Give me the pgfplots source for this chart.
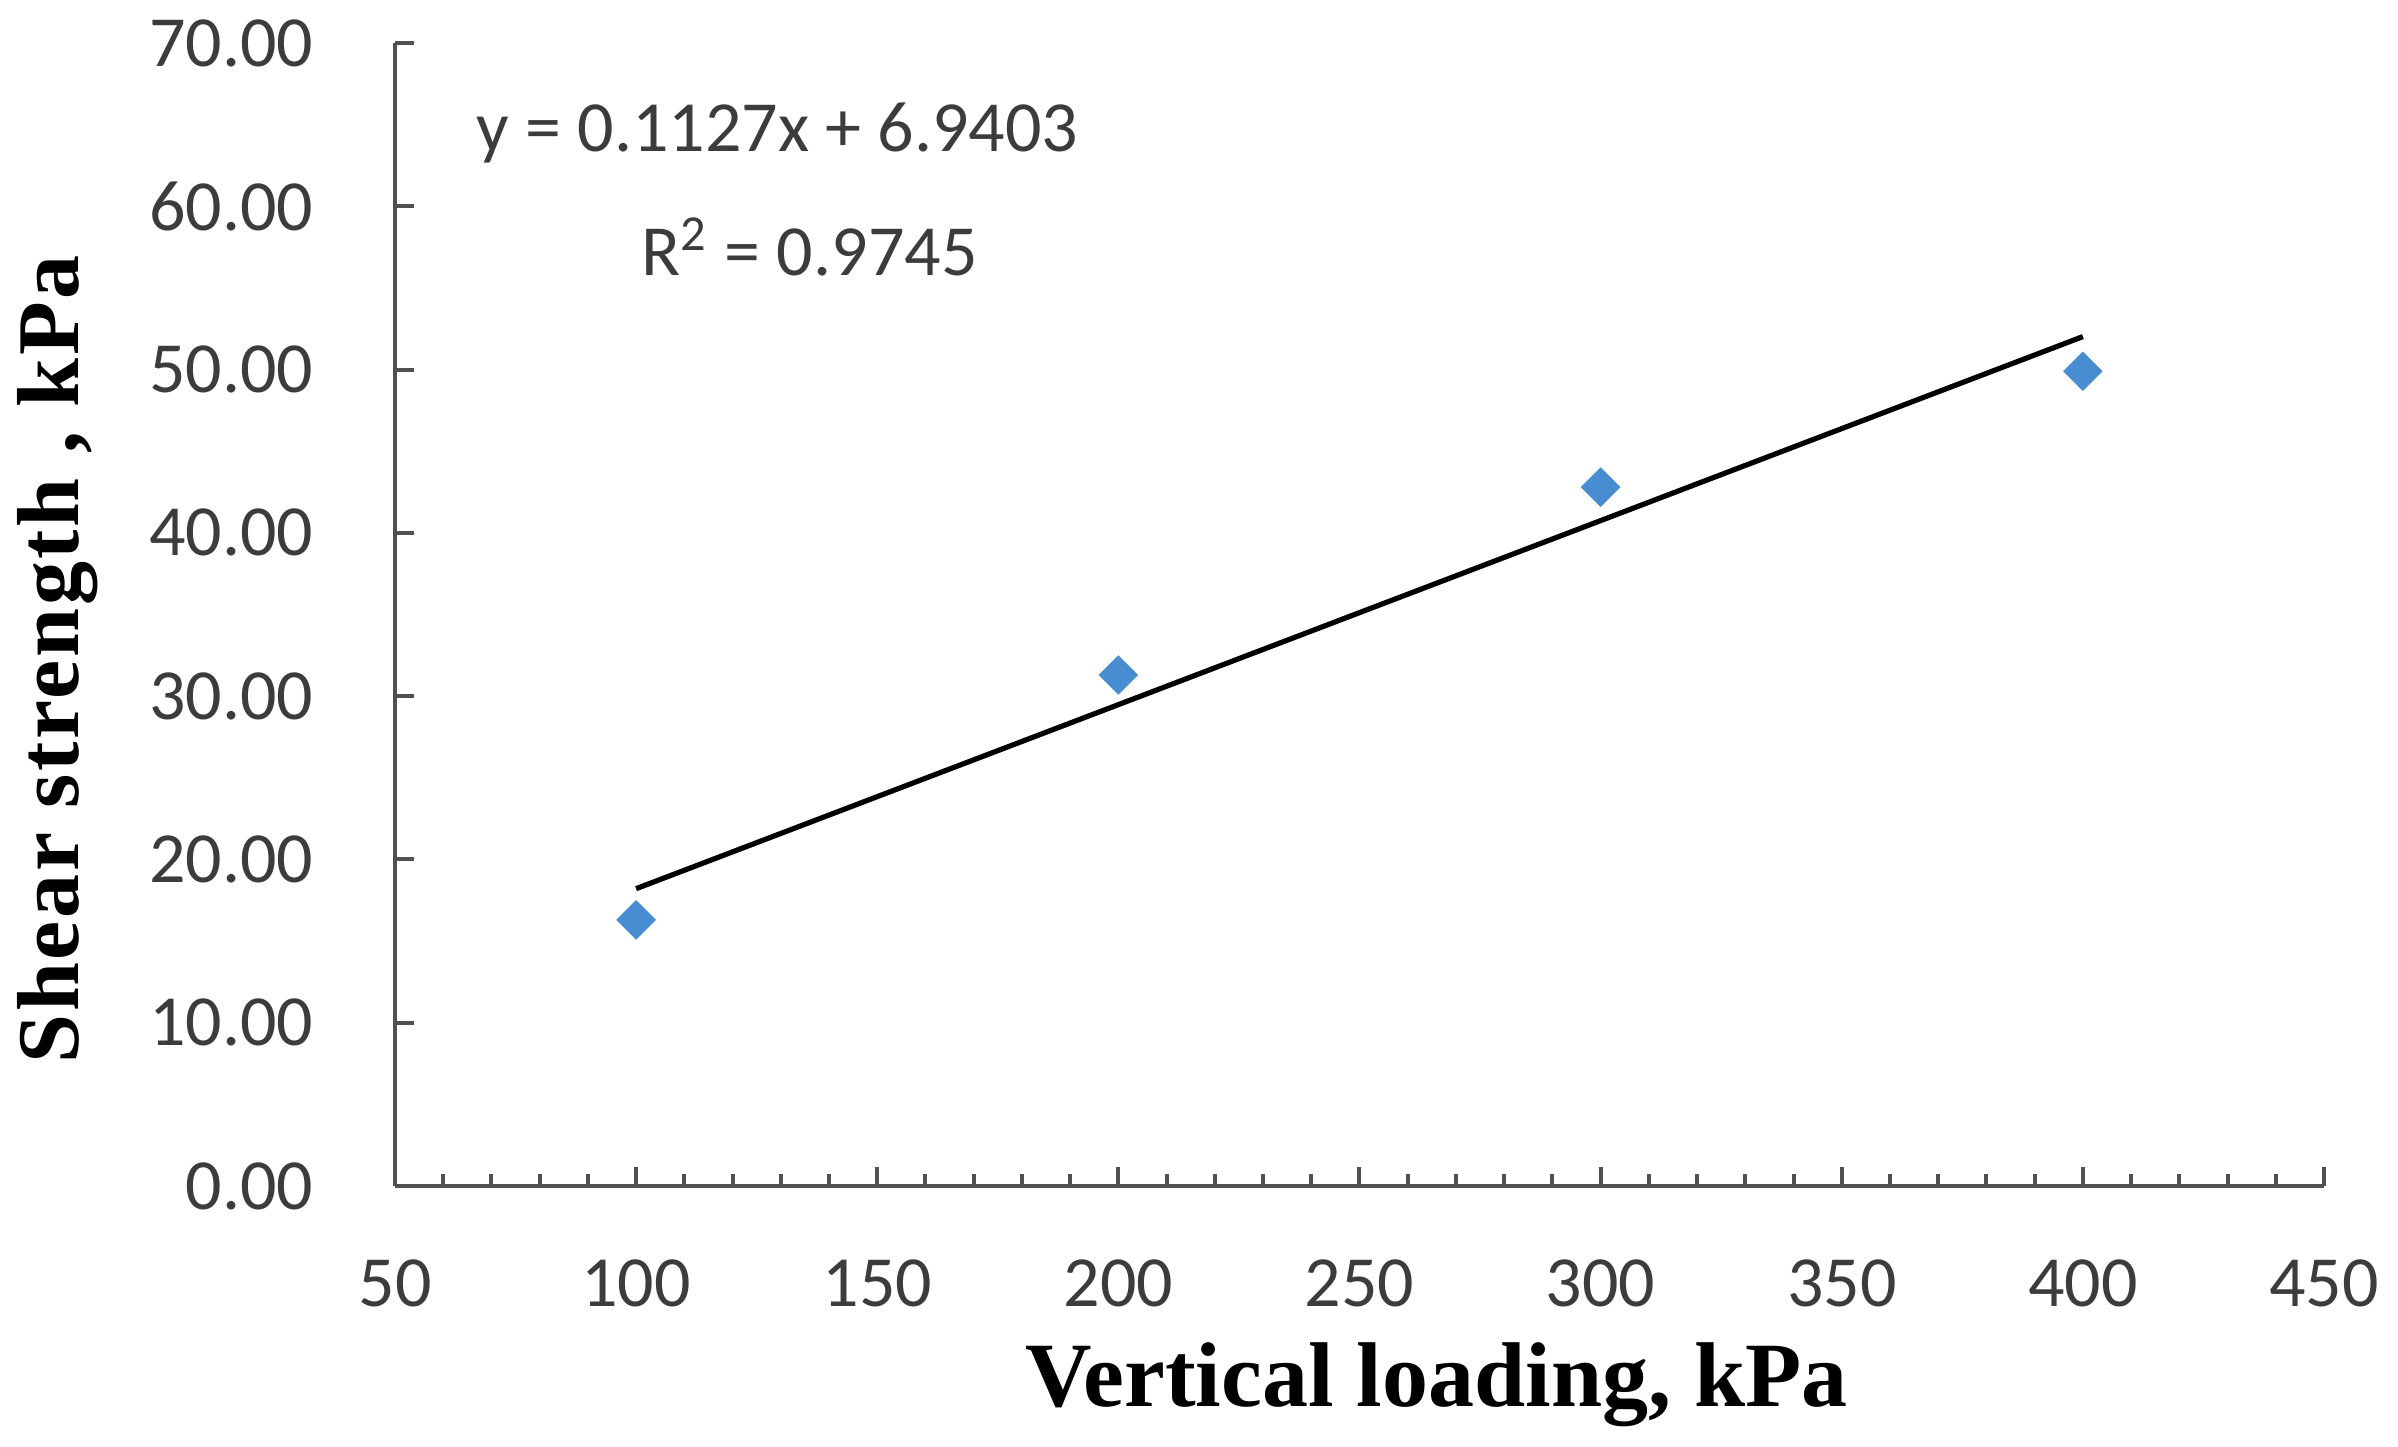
\documentclass[border=0pt]{standalone}
\usepackage{pgfplots}
\pgfplotsset{compat=1.18}
\usepackage{fontspec}
\setmainfont{Carlito}
\newfontfamily\xlabfont{Liberation Serif}
\newfontfamily\ylabfont{Liberation Serif}[LetterSpace=3]
\definecolor{markblue}{RGB}{72,140,210}
\definecolor{axgray}{RGB}{80,80,80}
\definecolor{txtgray}{RGB}{60,60,60}
\begin{document}
\begin{tikzpicture}
\useasboundingbox (-98.75pt,-65pt) rectangle (500.75pt,296.5pt);
\begin{axis}[
  at={(0pt,0pt)}, anchor=origin,
  scale only axis,
  width=482.25pt, height=285.75pt,
  xmin=50, xmax=450, ymin=0, ymax=70,
  axis x line=bottom, axis y line=left,
  axis line style={-, line width=1pt, color=axgray},
  every tick/.style={line width=1pt, color=axgray},
  tick align=inside,
  xtick={50,100,...,450},
  minor x tick num=4,
  ytick={0,10,...,70},
  major tick length=4.8pt,
  minor tick length=3pt,
  /pgf/number format/assume math mode=true,
  yticklabel style={/pgf/number format/.cd, fixed, fixed zerofill, precision=2, /tikz/.cd,
    font=\fontsize{18}{20}\selectfont, color=txtgray, inner sep=0pt, anchor=east, xshift=-20.25pt},
  xticklabel style={font=\fontsize{18}{20}\selectfont, color=txtgray, inner sep=0pt, anchor=north, yshift=-18.25pt},
  xlabel={Vertical loading, kPa},
  xlabel style={font=\xlabfont\bfseries\fontsize{23}{26}\selectfont, at={(axis description cs:0.54,0)}, anchor=base, yshift=-55pt, inner sep=0pt},
  ylabel={Shear strength , kPa},
  ylabel style={font=\ylabfont\bfseries\fontsize{22}{25}\selectfont, at={(axis description cs:-0.1747,0.461)}, anchor=center, rotate=0, inner sep=0pt},
  clip=false,
]
\addplot [black, line width=1.3pt] coordinates {(100,18.21) (400,52.02)};
\addplot [only marks, mark=square*, mark size=3.3pt, color=markblue, mark options={rotate=45, fill=markblue, draw=markblue}] coordinates {
  (100,16.3) (200,31.3) (300,42.8) (400,49.9)
};
\node[font=\fontsize{18}{20}\selectfont, color=txtgray, anchor=center, inner sep=0pt] at (axis cs:129.3,64.5) {y = 0.1127x + 6.9403};
\node[font=\fontsize{18}{20}\selectfont, color=txtgray, anchor=center, inner sep=0pt] at (axis cs:136,57.5) {R\textsuperscript{2} = 0.9745};
\end{axis}
\end{tikzpicture}
\end{document}
